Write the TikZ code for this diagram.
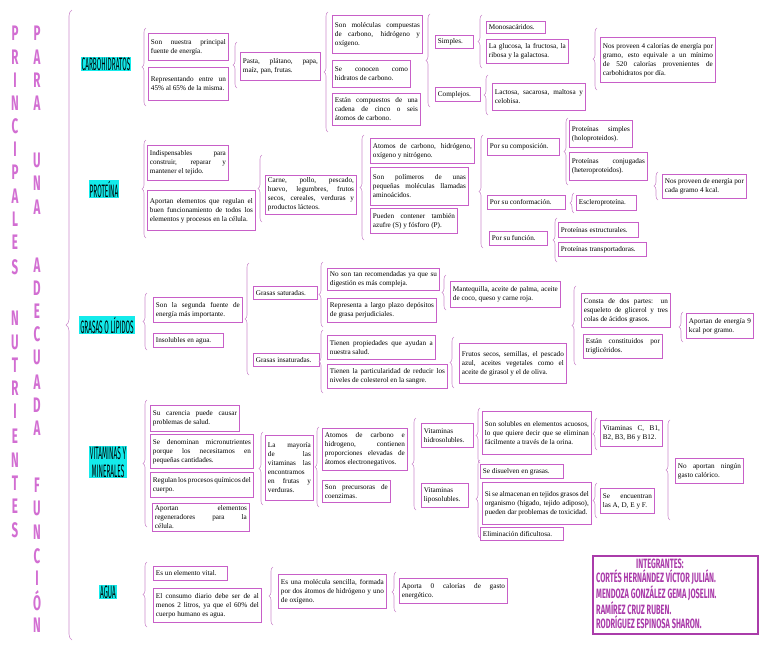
\documentclass[tikz,border=0pt]{standalone}
\usepackage{fontspec}
\setmainfont{Liberation Serif}
\newfontfamily\hand[FakeStretch=0.55]{Fira Sans}
\newfontfamily\catf[FakeStretch=0.36]{Fira Sans}
\usetikzlibrary{decorations.pathreplacing}
\hyphenpenalty=10000
\exhyphenpenalty=10000
\definecolor{bxc}{RGB}{200,95,200}
\definecolor{brc}{RGB}{205,140,205}
\definecolor{ttl}{RGB}{210,110,210}
\definecolor{cy}{RGB}{20,235,235}
\definecolor{intc}{RGB}{170,60,170}
\newcommand\boxfont{\fontsize{7.2}{9}\selectfont\hyphenpenalty10000 \exhyphenpenalty10000 }
\tikzset{
 box/.style={draw=bxc,line width=0.8pt,inner sep=2.5pt,font=\boxfont,align=justify,anchor=north west},
 brcs/.style={draw=brc,line width=0.6pt,decorate,decoration={brace,amplitude=4pt}},
 cat/.style={fill=cy,inner sep=1pt,font=\catf\fontsize{18}{18}\selectfont,align=center},
 ltr/.style={text=ttl,font=\hand\bfseries\fontsize{21}{21}\selectfont,inner sep=0pt},
}
\newcommand\bx[6]{\pgfmathsetlengthmacro\tw{#4-#2-5}\pgfmathsetlengthmacro\th{#5-#3}%
 \node[box,text width=\tw,minimum height=\th] (#1) at (#2,#3) {#6};}
\newcommand\br[3]{\draw[brcs] (#1,#3) -- (#1,#2);}
\begin{document}
\begin{tikzpicture}[x=1pt,y=-1pt]
\useasboundingbox (0,0) rectangle (768,654);
% title columns
\foreach \l/\y [count=\i] in {P/33,R/57,I/80,N/103,C/126,I/149,P/172,A/196,L/219,E/242,S/267,N/318,U/342,T/365,R/388,I/411,E/436,N/460,T/483,E/506,S/530}
  \node[ltr] (ta\i) at (15,\y) {\l};
\foreach \l/\y [count=\i] in {P/33,A/57,R/80,A/103,U/160,N/183,A/207,A/265,D/288,E/311,C/334,U/357,A/382,D/405,A/428,F/485,U/508,N/532,C/556,I/578,Ó/601,N/625}
  \node[ltr] (tb\i) at (37,\y) {\l};
\draw[brcs,decoration={brace,amplitude=6pt}] (72,640) -- (72,10);
% categories
\node[cat] (carb) at (106,64) {CARBOHIDRATOS};
\node[cat] (prot) at (104,189) {PROTEÍNA};
\node[cat] (gras) at (107,325) {GRASAS O LÍPIDOS};
\node[cat] (vita) at (108,462) {VITAMINAS Y\\MINERALES};
\node[cat] (agua) at (108,592) {AGUA};
% carbohidratos
\br{146}{28}{106}
\bx{c1}{148}{33}{228}{60}{Son nuestra principal fuente de energía.}
\bx{c2}{148}{67}{228}{100}{Representando entre un 45\% al 65\% de la misma.}
\br{237}{42}{88}
\bx{c3}{240}{52}{320}{80}{Pasta, plátano, papa, maíz, pan, frutas.}
\br{328}{12}{132}
\bx{c4}{332}{15}{422}{53}{Son moléculas compuestas de carbono, hidrógeno y oxígeno.}
\bx{c5}{332}{60}{410}{87}{Se conocen como hidratos de carbono.}
\bx{c6}{332}{93}{420}{125}{Están compuestos de una cadena de cinco o seis átomos de carbono.}
\br{430}{14}{107}
\bx{c7}{435}{35}{473}{48}{Simples.}
\bx{c8}{435}{87}{480}{101}{Complejos.}
\br{482}{15}{68}
\bx{c9}{486}{21}{545}{33}{Monosacáridos.}
\bx{c10}{486}{39}{568}{63}{La glucosa, la fructosa, la ribosa y la galactosa.}
\br{488}{75}{115}
\bx{c11}{492}{83}{585}{110}{Lactosa, sacarosa, maltosa y celobisa.}
\br{597}{28}{90}
\bx{c12}{600}{37}{715}{82}{Nos proveen 4 calorías de energía por gramo, esto equivale a un mínimo de 520 calorías provenientes de carbohidratos por día.}
% proteina
\br{146}{140}{238}
\bx{p1}{147}{145}{228}{180}{Indispensables para construir, reparar y mantener el tejido.}
\bx{p2}{147}{190}{255}{230}{Aportan elementos que regulan el buen funcionamiento de todos los elementos y procesos en la célula.}
\br{262}{155}{222}
\bx{p3}{265}{175}{356}{209}{Carne, pollo, pescado, huevo, legumbres, frutos secos, cereales, verduras y productos lácteos.}
\br{364}{135}{240}
\bx{p4}{370}{138}{474}{163}{Atomos de carbono, hidrógeno, oxígeno y nitrógeno.}
\bx{p5}{370}{167}{468}{205}{Son polímeros de unas pequeñas moléculas llamadas aminoácidos.}
\bx{p6}{370}{208}{457}{233}{Pueden contener también azufre (S) y fósforo (P).}
\br{483}{135}{248}
\bx{p7}{487}{138}{559}{155}{Por su composición.}
\bx{p8}{487}{195}{565}{209}{Por su conformación.}
\bx{p9}{489}{231}{547}{245}{Por su función.}
\br{568}{118}{185}
\bx{p10}{569}{120}{632}{147}{Proteínas simples (holoproteidos).}
\bx{p11}{569}{152}{647}{180}{Proteínas conjugadas (heteroproteidos).}
\br{574}{193}{213}
\bx{p12}{576}{195}{636}{210}{Escleroproteína.}
\br{557}{218}{262}
\bx{p13}{558}{222}{638}{237}{Proteínas estructurales.}
\bx{p14}{558}{242}{646}{256}{Proteínas transportadoras.}
\br{658}{172}{200}
\bx{p15}{662}{174}{746}{198}{Nos proveen de energía por cada gramo 4 kcal.}
% grasas
\br{147}{293}{350}
\bx{g1}{153}{297}{242}{322}{Son la segunda fuente de energía más importante.}
\bx{g2}{153}{333}{223}{347}{Insolubles en agua.}
\br{249}{263}{375}
\bx{g3}{253}{286}{317}{299}{Grasas saturadas.}
\bx{g4}{253}{353}{319}{366}{Grasas insaturadas.}
\br{323}{262}{327}
\bx{g5}{327}{268}{439}{290}{No son tan recomendadas ya que su digestión es más compleja.}
\bx{g6}{327}{298}{436}{322}{Representa a largo plazo depósitos de grasa perjudiciales.}
\br{323}{330}{393}
\bx{g7}{327}{335}{435}{359}{Tienen propiedades que ayudan a nuestra salud.}
\bx{g8}{327}{364}{447}{388}{Tienen la particularidad de reducir los niveles de colesterol en la sangre.}
\br{446}{275}{310}
\bx{g9}{450}{281}{560}{307}{Mantequilla, aceite de palma, aceite de coco, queso y carne roja.}
\br{454}{337}{388}
\bx{g10}{459}{343}{566}{383}{Frutos secos, semillas, el pescado azul, aceites vegetales como el aceite de girasol y el de oliva.}
\br{576}{286}{365}
\bx{g11}{581}{293}{670}{327}{Consta de dos partes: un esqueleto de glicerol y tres colas de ácidos grasos.}
\bx{g12}{583}{334}{662}{358}{Están constituidos por triglicéridos.}
\br{683}{312}{342}
\bx{g13}{686}{313}{753}{338}{Aportan de energía 9 kcal por gramo.}
% vitaminas
\br{147}{400}{527}
\bx{v1}{150}{405}{239}{431}{Su carencia puede causar problemas de salud.}
\bx{v2}{150}{434}{253}{468}{Se denominan micronutrientes porque los necesitamos en pequeñas cantidades.}
\bx{v3}{150}{472}{253}{497}{Regulan los procesos químicos del cuerpo.}
\bx{v4}{152}{503}{249}{528}{Aportan elementos regeneradores para la célula.}
\br{263}{432}{505}
\bx{v5}{265}{435}{313}{500}{La mayoría de las vitaminas las encontramos en frutas y verduras.}
\br{319}{427}{507}
\bx{v6}{322}{428}{407}{470}{Atomos de carbono e hidrogeno, contienen proporciones elevadas de átomos electronegativos.}
\bx{v7}{322}{480}{390}{502}{Son precursoras de coenzimas.}
\br{416}{418}{510}
\bx{v8}{421}{423}{473}{447}{Vitaminas hidrosolubles.}
\bx{v9}{421}{483}{468}{507}{Vitaminas liposolubles.}
\br{480}{408}{463}
\bx{v10}{482}{411}{591}{454}{Son solubles en elementos acuosos, lo que quiere decir que se eliminan fácilmente a través de la orina.}
\bx{v11}{480}{464}{563}{478}{Se disuelven en grasas.}
\br{480}{460}{538}
\bx{v12}{482}{482}{591}{524}{Si se almacenan en tejidos grasos del organismo (hígado, tejido adiposo), pueden dar problemas de toxicidad.}
\bx{v13}{480}{527}{563}{540}{Eliminación dificultosa.}
\br{597}{418}{450}
\bx{v14}{600}{420}{662}{446}{Vitaminas C, B1, B2, B3, B6 y B12.}
\br{597}{483}{518}
\bx{v15}{600}{488}{654}{513}{Se encuentran las A, D, E y F.}
\br{670}{420}{520}
\bx{v16}{675}{458}{743}{483}{No aportan ningún gasto calórico.}
% agua
\br{147}{562}{627}
\bx{a1}{153}{566}{227}{580}{Es un elemento vital.}
\bx{a2}{153}{588}{261}{622}{El consumo diario debe ser de al menos 2 litros, ya que el 60\% del cuerpo humano es agua.}
\br{273}{567}{625}
\bx{a3}{278}{574}{386}{608}{Es una molécula sencilla, formada por dos átomos de hidrógeno y uno de oxígeno.}
\br{396}{572}{612}
\bx{a4}{399}{578}{507}{603}{Aporta 0 calorías de gasto energético.}
% integrantes
\node[draw=intc,line width=1.6pt,anchor=north west,minimum width=165pt,minimum height=78pt,inner sep=0pt] (intb) at (592,555) {};
\node[text=intc,font=\hand\bfseries\fontsize{13.5}{13.8}\selectfont,align=left,anchor=north west,inner sep=0pt] (intt) at (596,559)
 {\hspace*{40pt}INTEGRANTES:\\CORTÉS HERNÁNDEZ VÍCTOR JULIÁN.\\MENDOZA GONZÁLEZ GEMA JOSELIN.\\RAMÍREZ CRUZ RUBEN.\\RODRÍGUEZ ESPINOSA SHARON.};
\end{tikzpicture}
\end{document}
